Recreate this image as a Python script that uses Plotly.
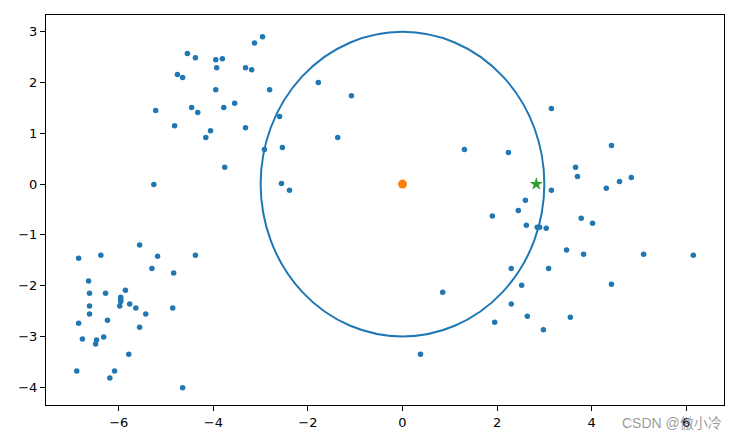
import plotly.graph_objects as go

# sample points
xs = [
    -2.96, -3.13, -4.55, -4.38, -3.95, -3.81, -3.93, -3.32, -3.19, -4.76,
    -4.65, -3.95, -2.81, -5.22, -4.46, -4.33, -3.78, -3.55, -4.82, -4.06,
    -4.16, -3.32, -2.60, -2.92, -2.54, -3.76, -5.26, -2.56, -2.39,
    -1.78, -1.08, -1.37, 1.31,
    1.90, 0.85, 1.95, 0.38,
    3.15, 2.24, 4.42, 3.66, 3.70, 4.59, 4.84, 4.31, 3.15, 2.60,
    2.45, 3.78, 4.02, 2.62, 2.85, 2.90, 3.04, 3.47, 3.83, 5.10, 6.15,
    2.30, 3.09, 2.52, 4.42, 2.30, 2.64, 3.55, 2.98,
    -6.85, -6.38, -5.56, -5.18, -4.38, -5.30, -4.84, -6.64, -6.62, -6.28,
    -5.86, -5.96, -5.96, -5.96, -5.98, -5.77, -5.64, -4.86, -6.62, -6.62,
    -5.43, -6.24, -5.56, -6.85, -6.77, -6.32, -6.47, -6.49, -5.79, -6.89,
    -6.09, -6.19, -4.65,
]
ys = [
    2.90, 2.78, 2.57, 2.49, 2.45, 2.47, 2.29, 2.29, 2.25, 2.16,
    2.10, 1.86, 1.86, 1.45, 1.51, 1.41, 1.51, 1.59, 1.15, 1.05,
    0.92, 1.11, 1.33, 0.68, 0.72, 0.33, -0.01, 0.01, -0.12,
    2.00, 1.74, 0.92, 0.68,
    -0.63, -2.13, -2.72, -3.35,
    1.49, 0.62, 0.76, 0.33, 0.15, 0.05, 0.13, -0.08, -0.12, -0.32,
    -0.52, -0.67, -0.77, -0.81, -0.85, -0.85, -0.87, -1.30, -1.38, -1.38, -1.40,
    -1.66, -1.66, -1.99, -1.97, -2.36, -2.60, -2.62, -2.87,
    -1.46, -1.40, -1.20, -1.42, -1.40, -1.66, -1.75, -1.91, -2.15, -2.15,
    -2.09, -2.23, -2.27, -2.31, -2.40, -2.36, -2.44, -2.44, -2.40, -2.56,
    -2.56, -2.68, -2.82, -2.74, -3.05, -3.01, -3.07, -3.15, -3.35, -3.68,
    -3.68, -3.82, -4.01,
]

center = (0.0, 0.0)
radius = 3.0
star = (2.83, 0.0)

fig = go.Figure()
fig.add_shape(
    type="circle", xref="x", yref="y", layer="below",
    x0=center[0] - radius, x1=center[0] + radius,
    y0=center[1] - radius, y1=center[1] + radius,
    line={"color": "#1f77b4", "width": 2},
)
fig.add_trace(go.Scatter(x=xs, y=ys, mode="markers",
                         marker={"color": "#1f77b4", "size": 5.5}))
fig.add_trace(go.Scatter(x=[center[0]], y=[center[1]], mode="markers",
                         marker={"color": "#ff7f0e", "size": 9}))
fig.add_trace(go.Scatter(x=[star[0]], y=[star[1]], mode="markers",
                         marker={"color": "#2ca02c", "size": 10, "symbol": "star"}))

axis_style = dict(
    showgrid=False, zeroline=False, showline=True, mirror=True,
    linecolor="black", linewidth=1, ticks="outside", ticklen=5,
    tickcolor="black", tickfont={"size": 13, "color": "black"},
)
fig.update_xaxes(range=[-7.54, 6.80], tickmode="array",
                 tickvals=[-6, -4, -2, 0, 2, 4, 6], **axis_style)
fig.update_yaxes(range=[-4.35, 3.33], tickmode="array",
                 tickvals=[-4, -3, -2, -1, 0, 1, 2, 3], **axis_style)

# watermark in the lower-right corner
fig.add_annotation(
    text="CSDN @傲小冷", xref="paper", yref="paper", x=1.0, y=-0.046,
    xanchor="right", yanchor="middle", showarrow=False,
    font={"family": "Liberation Sans, Noto Sans CJK SC", "size": 14,
          "color": "rgba(120,120,120,0.75)"},
)

# page body has an 8px margin, so the figure is sized/offset to compensate
fig.update_layout(
    width=731, height=433,
    margin={"l": 38, "r": 15, "t": 7, "b": 36},
    plot_bgcolor="white", paper_bgcolor="white",
    showlegend=False,
    font={"family": "DejaVu Sans"},
)
fig.write_html("out.html")
